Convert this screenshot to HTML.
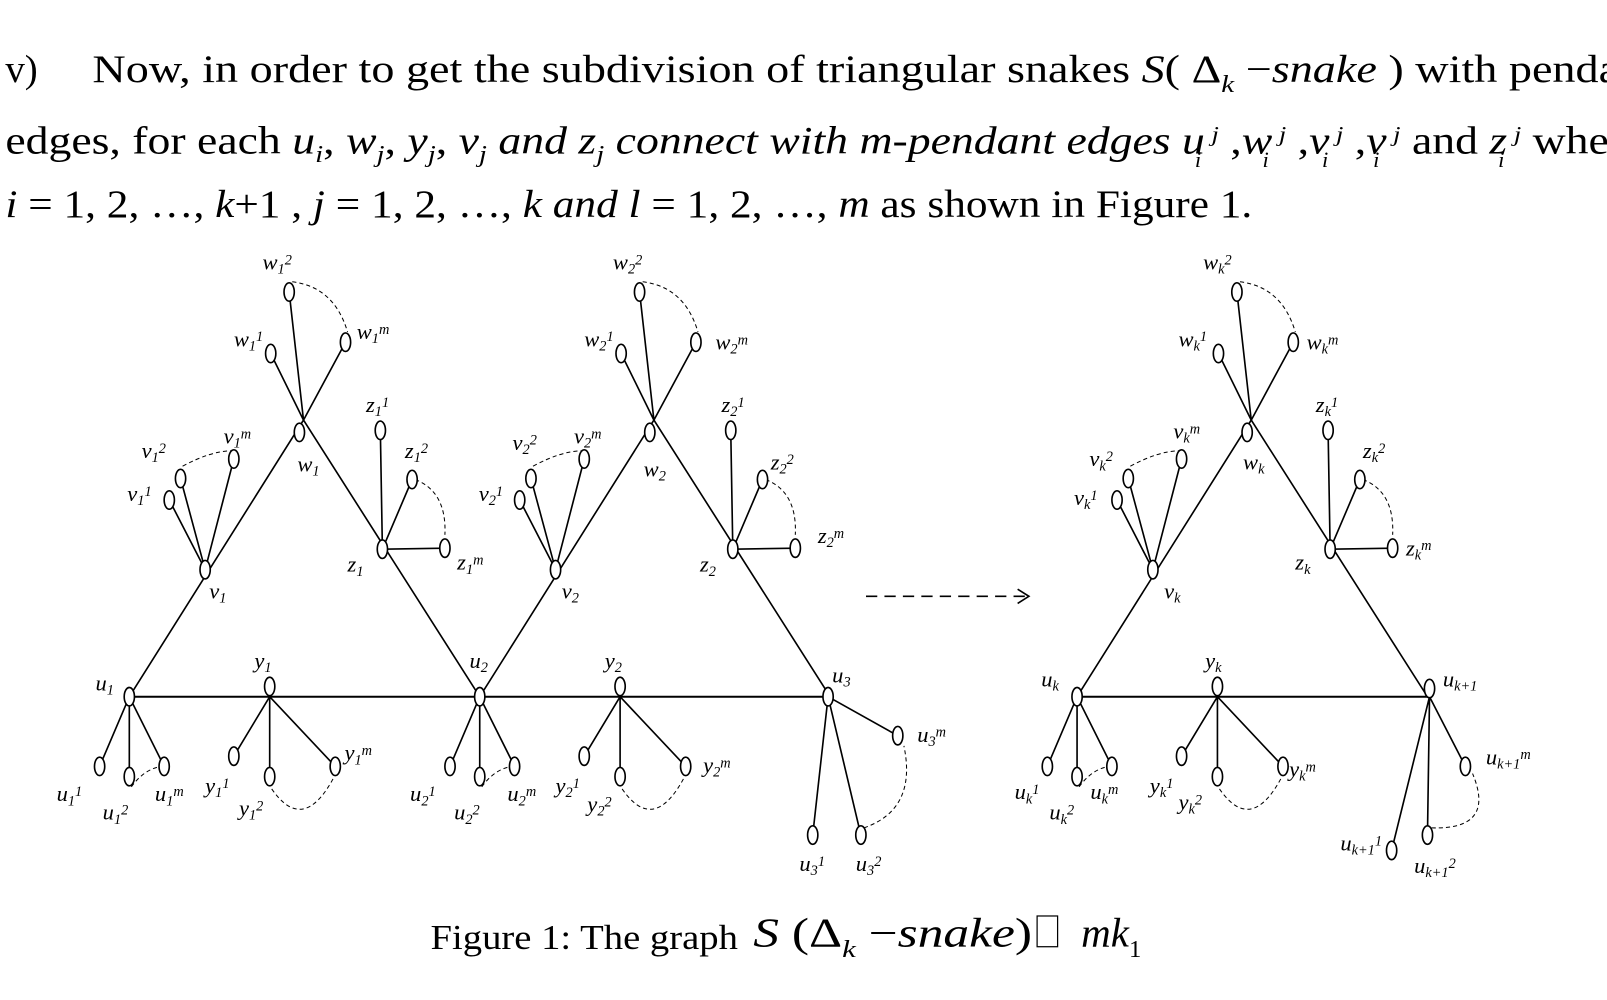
<!DOCTYPE html>
<html><head><meta charset="utf-8"><style>
html,body{margin:0;padding:0;background:#fff;}
svg{display:block}
text{font-family:"Liberation Serif",serif;fill:#000}
.l{font-size:22px;font-style:italic}
.s{font-size:14px}
</style></head><body>
<svg width="1607" height="1000" viewBox="0 0 1568 976" xmlns="http://www.w3.org/2000/svg">
<defs>
<g id="tri" fill="none" stroke="#000" stroke-width="1.6">
 <path d="M0,0 L170,-270 L342,0"/>
 <path d="M170,-270 L138,-335 M170,-270 L156,-395 M170,-270 L211,-346"/>
 <path d="M74,-124 L39,-192 M74,-124 L50,-213 M74,-124 L102,-232"/>
 <path d="M247,-144 L245,-260 M247,-144 L276,-212 M247,-144 L308,-145"/>
 <path d="M137,0 L102,58 M137,0 L137,78 M137,0 L201,68"/>
 <path d="M0,0 L-29,68 M0,0 L0,78 M0,0 L34,68"/>
 <g stroke-dasharray="4,3" stroke-width="1">
  <path d="M159,-405 Q200,-400 213,-356"/>
  <path d="M52,-225 Q80,-240 100,-240"/>
  <path d="M279,-212 Q310,-200 308,-158"/>
  <path d="M139,90 Q170,135 200,78"/>
  <path d="M2,88 Q15,70 32,68"/>
 </g>
 <g fill="#fff">
  <ellipse cx="0" cy="0" rx="5" ry="9"/><ellipse cx="74" cy="-124" rx="5" ry="9"/>
  <ellipse cx="166" cy="-258" rx="5" ry="9"/><ellipse cx="247" cy="-144" rx="5" ry="9"/>
  <ellipse cx="137" cy="-10" rx="5" ry="9"/>
  <ellipse cx="138" cy="-335" rx="5" ry="9"/><ellipse cx="156" cy="-395" rx="5" ry="9"/><ellipse cx="211" cy="-346" rx="5" ry="9"/>
  <ellipse cx="39" cy="-192" rx="5" ry="9"/><ellipse cx="50" cy="-213" rx="5" ry="9"/><ellipse cx="102" cy="-232" rx="5" ry="9"/>
  <ellipse cx="245" cy="-260" rx="5" ry="9"/><ellipse cx="276" cy="-212" rx="5" ry="9"/><ellipse cx="308" cy="-145" rx="5" ry="9"/>
  <ellipse cx="102" cy="58" rx="5" ry="9"/><ellipse cx="137" cy="78" rx="5" ry="9"/><ellipse cx="201" cy="68" rx="5" ry="9"/>
  <ellipse cx="-29" cy="68" rx="5" ry="9"/><ellipse cx="0" cy="78" rx="5" ry="9"/><ellipse cx="34" cy="68" rx="5" ry="9"/>
 </g>
</g>
</defs>

<!-- top text -->
<text x="5" y="80" font-size="38">v)</text>
<text x="90" y="80" font-size="38" textLength="1490" lengthAdjust="spacingAndGlyphs">Now, in order to get the subdivision of triangular snakes <tspan font-style="italic">S</tspan>( Δ<tspan font-size="24" dy="10" font-style="italic">k</tspan><tspan dy="-10"> −</tspan><tspan font-style="italic">snake</tspan> ) with penda</text>
<text x="5" y="150" font-size="38" textLength="1565" lengthAdjust="spacingAndGlyphs">edges, for each <tspan font-style="italic">u</tspan><tspan font-size="24" dy="8" font-style="italic">i</tspan><tspan dy="-8">, </tspan><tspan font-style="italic">w</tspan><tspan font-size="24" dy="8" font-style="italic">j</tspan><tspan dy="-8">, </tspan><tspan font-style="italic">y</tspan><tspan font-size="24" dy="8" font-style="italic">j</tspan><tspan dy="-8">, </tspan><tspan font-style="italic">v</tspan><tspan font-size="24" dy="8" font-style="italic">j</tspan><tspan dy="-8" font-style="italic"> and z</tspan><tspan font-size="24" dy="8" font-style="italic">j</tspan><tspan dy="-8" font-style="italic">  connect with m-pendant edges u</tspan><tspan font-size="22" dy="-12" font-style="italic"> j</tspan><tspan font-size="38" dy="12"> ,</tspan><tspan font-style="italic">w</tspan><tspan font-size="22" dy="-12" font-style="italic"> j</tspan><tspan font-size="38" dy="12"> ,</tspan><tspan font-style="italic">v</tspan><tspan font-size="22" dy="-12" font-style="italic"> j</tspan><tspan font-size="38" dy="12"> ,</tspan><tspan font-style="italic">v</tspan><tspan font-size="22" dy="-12" font-style="italic"> j</tspan><tspan font-size="38" dy="12"> and </tspan><tspan font-style="italic">z</tspan><tspan font-size="22" dy="-12" font-style="italic"> j</tspan><tspan font-size="38" dy="12">  whe</tspan></text>
<g font-size="22" font-style="italic"><text x="1166" y="163">i</text><text x="1232" y="163">i</text><text x="1290" y="163">i</text><text x="1340" y="163">i</text><text x="1462" y="163">i</text></g>
<text x="5" y="212" font-size="38" textLength="1217" lengthAdjust="spacingAndGlyphs"><tspan font-style="italic">i</tspan> = 1, 2, …, <tspan font-style="italic">k</tspan>+1 , <tspan font-style="italic">j</tspan> = 1, 2, …, <tspan font-style="italic">k and l</tspan> = 1, 2, …, <tspan font-style="italic">m</tspan> as shown in Figure 1.</text>

<!-- graph -->
<line x1="126" y1="680" x2="808" y2="680" stroke="#000" stroke-width="2"/>
<line x1="1051" y1="680" x2="1395" y2="680" stroke="#000" stroke-width="2"/>
<use href="#tri" x="126" y="680"/>
<use href="#tri" x="468" y="680"/>
<use href="#tri" x="1051" y="680"/>

<g fill="none" stroke="#000" stroke-width="1.6">
 <path d="M808,680 L793,815 M808,680 L840,815 M808,680 L876,718"/>
 <path d="M1395,680 L1358,830 M1395,680 L1393,815 M1395,680 L1430,748"/>
 <g stroke-dasharray="4,3" stroke-width="1"><path d="M843,808 Q895,790 882,728"/><path d="M1397,808 Q1460,810 1437,755"/></g>
 <g fill="#fff">
  <ellipse cx="808" cy="680" rx="5" ry="9"/><ellipse cx="793" cy="815" rx="5" ry="9"/><ellipse cx="840" cy="815" rx="5" ry="9"/><ellipse cx="876" cy="718" rx="5" ry="9"/>
  <ellipse cx="1395" cy="672" rx="5" ry="9"/><ellipse cx="1358" cy="830" rx="5" ry="9"/><ellipse cx="1393" cy="815" rx="5" ry="9"/><ellipse cx="1430" cy="748" rx="5" ry="9"/>
 </g>
 <path d="M845,582 L1000,582" stroke-dasharray="11,7" stroke-width="1.6"/>
 <path d="M993,575 L1004,582 L993,589" stroke-width="1.6"/>
</g>

<g class="l">
<text x="256" y="263">w<tspan class="s" dy="4">1</tspan><tspan class="s" dy="-9">2</tspan></text>
<text x="228" y="338">w<tspan class="s" dy="4">1</tspan><tspan class="s" dy="-9">1</tspan></text>
<text x="348" y="331">w<tspan class="s" dy="4">1</tspan><tspan class="s" dy="-9">m</tspan></text>
<text x="290" y="460">w<tspan class="s" dy="4">1</tspan></text>
<text x="138" y="447">v<tspan class="s" dy="4">1</tspan><tspan class="s" dy="-9">2</tspan></text>
<text x="124" y="489">v<tspan class="s" dy="4">1</tspan><tspan class="s" dy="-9">1</tspan></text>
<text x="218" y="433">v<tspan class="s" dy="4">1</tspan><tspan class="s" dy="-9">m</tspan></text>
<text x="204" y="584">v<tspan class="s" dy="4">1</tspan></text>
<text x="357" y="402">z<tspan class="s" dy="4">1</tspan><tspan class="s" dy="-9">1</tspan></text>
<text x="395" y="447">z<tspan class="s" dy="4">1</tspan><tspan class="s" dy="-9">2</tspan></text>
<text x="446" y="556">z<tspan class="s" dy="4">1</tspan><tspan class="s" dy="-9">m</tspan></text>
<text x="339" y="558">z<tspan class="s" dy="4">1</tspan></text>
<text x="248" y="652">y<tspan class="s" dy="4">1</tspan></text>
<text x="200" y="774">y<tspan class="s" dy="4">1</tspan><tspan class="s" dy="-9">1</tspan></text>
<text x="233" y="796">y<tspan class="s" dy="4">1</tspan><tspan class="s" dy="-9">2</tspan></text>
<text x="336" y="742">y<tspan class="s" dy="4">1</tspan><tspan class="s" dy="-9">m</tspan></text>
<text x="93" y="674">u<tspan class="s" dy="4">1</tspan></text>
<text x="55" y="782">u<tspan class="s" dy="4">1</tspan><tspan class="s" dy="-9">1</tspan></text>
<text x="100" y="800">u<tspan class="s" dy="4">1</tspan><tspan class="s" dy="-9">2</tspan></text>
<text x="151" y="782">u<tspan class="s" dy="4">1</tspan><tspan class="s" dy="-9">m</tspan></text>
<text x="598" y="263">w<tspan class="s" dy="4">2</tspan><tspan class="s" dy="-9">2</tspan></text>
<text x="570" y="338">w<tspan class="s" dy="4">2</tspan><tspan class="s" dy="-9">1</tspan></text>
<text x="698" y="341">w<tspan class="s" dy="4">2</tspan><tspan class="s" dy="-9">m</tspan></text>
<text x="628" y="465">w<tspan class="s" dy="4">2</tspan></text>
<text x="500" y="439">v<tspan class="s" dy="4">2</tspan><tspan class="s" dy="-9">2</tspan></text>
<text x="467" y="489">v<tspan class="s" dy="4">2</tspan><tspan class="s" dy="-9">1</tspan></text>
<text x="560" y="433">v<tspan class="s" dy="4">2</tspan><tspan class="s" dy="-9">m</tspan></text>
<text x="548" y="584">v<tspan class="s" dy="4">2</tspan></text>
<text x="704" y="402">z<tspan class="s" dy="4">2</tspan><tspan class="s" dy="-9">1</tspan></text>
<text x="752" y="458">z<tspan class="s" dy="4">2</tspan><tspan class="s" dy="-9">2</tspan></text>
<text x="798" y="530">z<tspan class="s" dy="4">2</tspan><tspan class="s" dy="-9">m</tspan></text>
<text x="683" y="558">z<tspan class="s" dy="4">2</tspan></text>
<text x="590" y="652">y<tspan class="s" dy="4">2</tspan></text>
<text x="542" y="774">y<tspan class="s" dy="4">2</tspan><tspan class="s" dy="-9">1</tspan></text>
<text x="573" y="792">y<tspan class="s" dy="4">2</tspan><tspan class="s" dy="-9">2</tspan></text>
<text x="686" y="754">y<tspan class="s" dy="4">2</tspan><tspan class="s" dy="-9">m</tspan></text>
<text x="458" y="652">u<tspan class="s" dy="4">2</tspan></text>
<text x="400" y="782">u<tspan class="s" dy="4">2</tspan><tspan class="s" dy="-9">1</tspan></text>
<text x="443" y="800">u<tspan class="s" dy="4">2</tspan><tspan class="s" dy="-9">2</tspan></text>
<text x="495" y="782">u<tspan class="s" dy="4">2</tspan><tspan class="s" dy="-9">m</tspan></text>
<text x="812" y="666">u<tspan class="s" dy="4">3</tspan></text>
<text x="780" y="850">u<tspan class="s" dy="4">3</tspan><tspan class="s" dy="-9">1</tspan></text>
<text x="835" y="850">u<tspan class="s" dy="4">3</tspan><tspan class="s" dy="-9">2</tspan></text>
<text x="895" y="724">u<tspan class="s" dy="4">3</tspan><tspan class="s" dy="-9">m</tspan></text>
<text x="1174" y="263">w<tspan class="s" dy="4">k</tspan><tspan class="s" dy="-9">2</tspan></text>
<text x="1150" y="338">w<tspan class="s" dy="4">k</tspan><tspan class="s" dy="-9">1</tspan></text>
<text x="1275" y="341">w<tspan class="s" dy="4">k</tspan><tspan class="s" dy="-9">m</tspan></text>
<text x="1213" y="458">w<tspan class="s" dy="4">k</tspan></text>
<text x="1063" y="455">v<tspan class="s" dy="4">k</tspan><tspan class="s" dy="-9">2</tspan></text>
<text x="1048" y="493">v<tspan class="s" dy="4">k</tspan><tspan class="s" dy="-9">1</tspan></text>
<text x="1145" y="428">v<tspan class="s" dy="4">k</tspan><tspan class="s" dy="-9">m</tspan></text>
<text x="1136" y="584">v<tspan class="s" dy="4">k</tspan></text>
<text x="1284" y="402">z<tspan class="s" dy="4">k</tspan><tspan class="s" dy="-9">1</tspan></text>
<text x="1330" y="447">z<tspan class="s" dy="4">k</tspan><tspan class="s" dy="-9">2</tspan></text>
<text x="1372" y="542">z<tspan class="s" dy="4">k</tspan><tspan class="s" dy="-9">m</tspan></text>
<text x="1264" y="556">z<tspan class="s" dy="4">k</tspan></text>
<text x="1176" y="652">y<tspan class="s" dy="4">k</tspan></text>
<text x="1122" y="774">y<tspan class="s" dy="4">k</tspan><tspan class="s" dy="-9">1</tspan></text>
<text x="1150" y="790">y<tspan class="s" dy="4">k</tspan><tspan class="s" dy="-9">2</tspan></text>
<text x="1258" y="758">y<tspan class="s" dy="4">k</tspan><tspan class="s" dy="-9">m</tspan></text>
<text x="1016" y="670">u<tspan class="s" dy="4">k</tspan></text>
<text x="990" y="780">u<tspan class="s" dy="4">k</tspan><tspan class="s" dy="-9">1</tspan></text>
<text x="1024" y="800">u<tspan class="s" dy="4">k</tspan><tspan class="s" dy="-9">2</tspan></text>
<text x="1064" y="780">u<tspan class="s" dy="4">k</tspan><tspan class="s" dy="-9">m</tspan></text>
<text x="1408" y="670">u<tspan class="s" dy="4">k+1</tspan></text>
<text x="1308" y="830">u<tspan class="s" dy="4">k+1</tspan><tspan class="s" dy="-9">1</tspan></text>
<text x="1380" y="852">u<tspan class="s" dy="4">k+1</tspan><tspan class="s" dy="-9">2</tspan></text>
<text x="1450" y="746">u<tspan class="s" dy="4">k+1</tspan><tspan class="s" dy="-9">m</tspan></text>
</g>

<!-- caption -->
<text x="420" y="926" font-size="34" textLength="300" lengthAdjust="spacingAndGlyphs">Figure 1: The graph</text>
<text x="735" y="924" font-size="40" font-style="italic" textLength="272" lengthAdjust="spacingAndGlyphs">S<tspan font-style="normal"> (Δ</tspan><tspan font-size="24" dy="10">k</tspan><tspan dy="-10" font-style="normal"> −</tspan>snake<tspan font-style="normal">)</tspan></text>
<rect x="1012" y="894" width="20" height="30" fill="none" stroke="#000" stroke-width="1.2"/>
<text x="1055" y="924" font-size="40" font-style="italic">mk<tspan font-size="24" font-style="normal" dy="10">1</tspan></text>
</svg>
</body></html>
